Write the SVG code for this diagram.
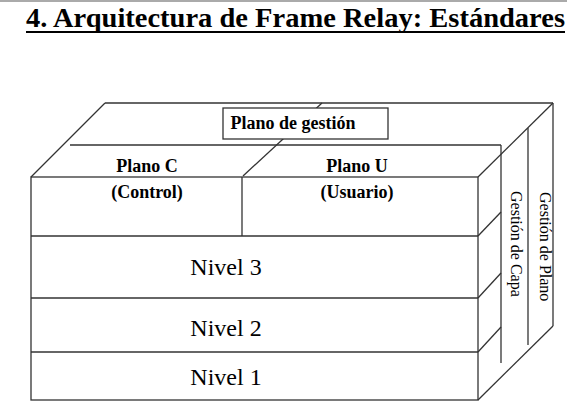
<svg xmlns="http://www.w3.org/2000/svg" width="567" height="408" viewBox="0 0 567 408">
<style>
.ln{stroke:#333;stroke-width:1.3;fill:none}
.bx{stroke:#333;stroke-width:1.3;fill:#fff}
.b{font-family:"Liberation Serif",serif;font-weight:bold;font-size:18px;fill:#000}
.r{font-family:"Liberation Serif",serif;font-size:24px;fill:#000}
.v{font-family:"Liberation Serif",serif;font-size:16px;fill:#000}
</style>
<rect x="0" y="0" width="567" height="408" fill="#fff"/>
<rect x="0" y="0" width="567" height="2" fill="#aaa"/>
<g id="title">
<text x="26" y="27" font-family="Liberation Serif,serif" font-weight="bold" font-size="27" textLength="539" lengthAdjust="spacingAndGlyphs">4. Arquitectura de Frame Relay: Estándares</text>
<line x1="26" y1="32" x2="565" y2="32" stroke="#000" stroke-width="2"/>
</g>
<g id="connectors">
<line class="ln" x1="105" y1="103" x2="553" y2="103"/>
<line class="ln" x1="31" y1="177" x2="105" y2="103"/>
<line class="ln" x1="478" y1="177" x2="553" y2="103"/>
<line class="ln" x1="478" y1="400" x2="553" y2="326"/>
<line class="ln" x1="553" y1="103" x2="553" y2="326"/>
<line class="ln" x1="70" y1="145" x2="501" y2="145"/>
<line class="ln" x1="501" y1="145" x2="501" y2="363"/>
<line class="ln" x1="528" y1="128" x2="528" y2="345"/>
<line class="ln" x1="243" y1="176" x2="322" y2="103"/>
<line class="ln" x1="478" y1="236" x2="501" y2="212"/>
<line class="ln" x1="478" y1="298" x2="501" y2="273"/>
<line class="ln" x1="478" y1="352" x2="501" y2="327"/>
</g>
<g id="plano-gestion">
<rect class="bx" x="223" y="108" width="165" height="31"/>
<text class="b" x="293" y="129" text-anchor="middle">Plano de gestión</text>
</g>
<g id="front">
<rect class="ln" x="31" y="177" width="447" height="223"/>
<line class="ln" x1="31" y1="236" x2="478" y2="236"/>
<line class="ln" x1="31" y1="298" x2="478" y2="298"/>
<line class="ln" x1="31" y1="352" x2="478" y2="352"/>
<line class="ln" x1="242" y1="177" x2="242" y2="236"/>
</g>
<g id="plano-c">
<text class="b" x="147" y="172" text-anchor="middle">Plano C</text>
<text class="b" x="147" y="198" text-anchor="middle">(Control)</text>
</g>
<g id="plano-u">
<text class="b" x="357" y="172" text-anchor="middle">Plano U</text>
<text class="b" x="357" y="198" text-anchor="middle">(Usuario)</text>
</g>
<g id="nivel3"><text class="r" x="226" y="275" text-anchor="middle">Nivel 3</text></g>
<g id="nivel2"><text class="r" x="226" y="336" text-anchor="middle">Nivel 2</text></g>
<g id="nivel1"><text class="r" x="226" y="385" text-anchor="middle">Nivel 1</text></g>
<g id="gestion-capa"><text class="v" transform="translate(511,191) rotate(90)">Gestión de Capa</text></g>
<g id="gestion-plano"><text class="v" transform="translate(540,192) rotate(90)">Gestión de Plano</text></g>
</svg>
